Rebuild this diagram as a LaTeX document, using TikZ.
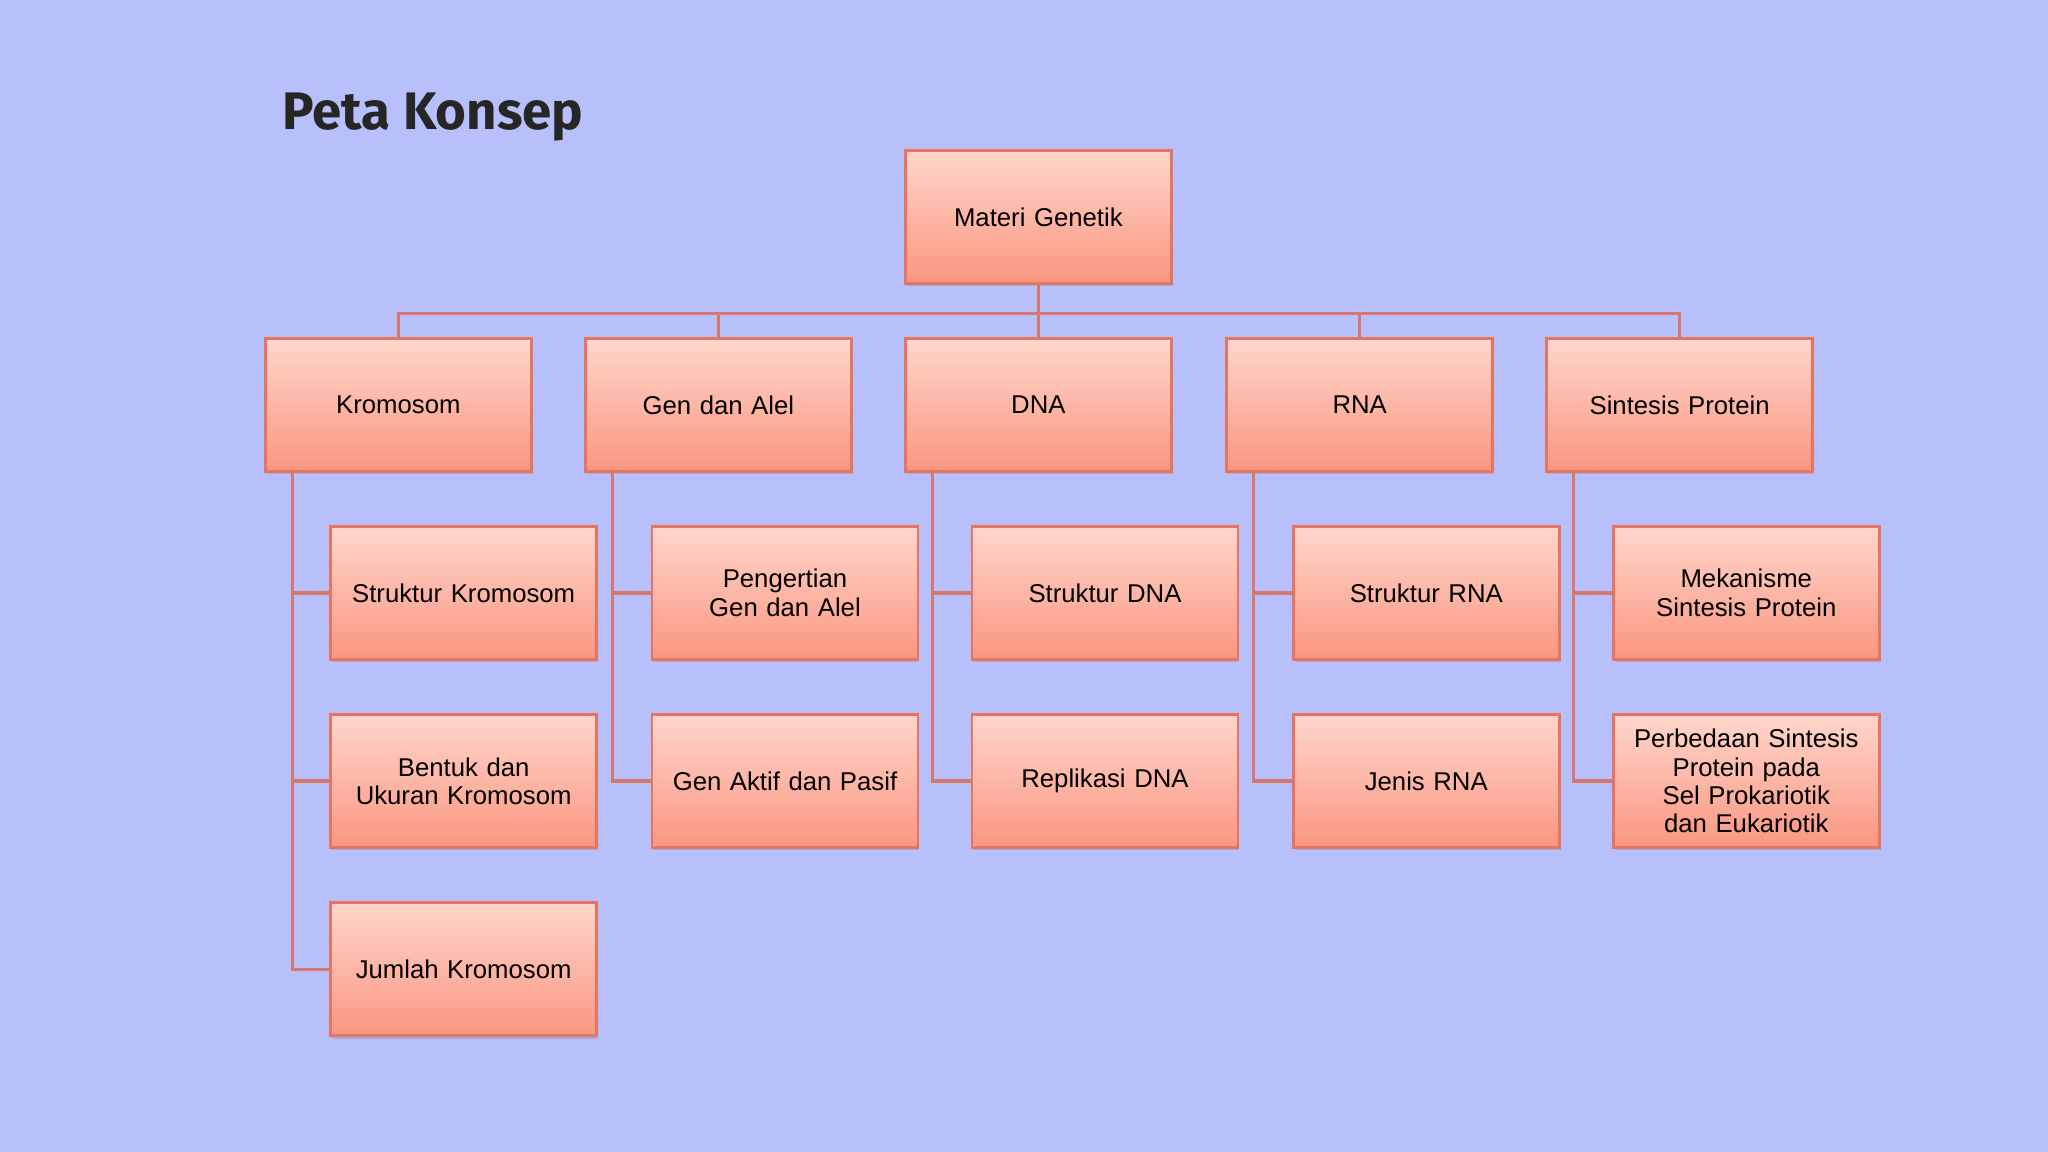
\documentclass[tikz,border=0pt]{standalone}
\usepackage{fontspec}
\setmainfont{Liberation Sans}
\newfontfamily\titlefont{Fira Sans}
\usetikzlibrary{positioning,shadows,backgrounds}
\definecolor{bgblue}{RGB}{184,192,252}
\definecolor{boxtop}{RGB}{255,214,204}
\definecolor{boxbot}{RGB}{250,150,128}
\definecolor{boxline}{RGB}{232,116,96}
\definecolor{linkline}{RGB}{214,120,110}
\tikzset{
  box/.style={draw=boxline, line width=0.6pt, top color=boxtop, bottom color=boxbot,
    minimum width=2.03cm, minimum height=1.02cm, text width=2.0cm, align=center,
    inner sep=0.5pt, font=\fontsize{5.6}{6.2}\selectfont,
    drop shadow={shadow xshift=0.3pt, shadow yshift=-0.6pt, fill=black!45, opacity=0.35}},
  link/.style={draw=linkline, line width=0.7pt}
}
\hyphenpenalty=10000
\begin{document}
\hyphenpenalty=10000
\begin{tikzpicture}[x=0.01cm,y=-0.01cm]
\node[anchor=west, font=\titlefont\bfseries\fontsize{11.5}{13}\selectfont, text=black!85] (title) at (204,90) {Peta Konsep};

\node[box] (root) at (795,166) {Materi Genetik};
\node[box] (kro) at (305,310) {Kromosom};
\node[box] (gen) at (550,310) {Gen dan Alel};
\node[box] (dna) at (795,310) {DNA};
\node[box] (rna) at (1041,310) {RNA};
\node[box] (sin) at (1286,310) {Sintesis Protein};

\node[box] (kro1) at (355,454) {Struktur Kromosom};
\node[box] (kro2) at (355,598) {Bentuk dan Ukuran Kromosom};
\node[box] (kro3) at (355,742) {Jumlah Kromosom};
\node[box] (gen1) at (601,454) {Pengertian Gen dan Alel};
\node[box] (gen2) at (601,598) {Gen Aktif dan Pasif};
\node[box] (dna1) at (846,454) {Struktur DNA};
\node[box] (dna2) at (846,598) {Replikasi DNA};
\node[box] (rna1) at (1092,454) {Struktur RNA};
\node[box] (rna2) at (1092,598) {Jenis RNA};
\node[box] (sin1) at (1337,454) {Mekanisme Sintesis Protein};
\node[box] (sin2) at (1337,598) {Perbedaan Sintesis Protein pada Sel Prokariotik dan Eukariotik};

% connectors
\begin{scope}[on background layer]
\fill[bgblue] (0,0) rectangle (1568,882);
\foreach \p in {kro,gen,dna,rna,sin}
  \draw[link] (root.south) -- ++(0,22) -| (\p.north);
\foreach \p/\c in {kro/kro1,kro/kro2,kro/kro3,gen/gen1,gen/gen2,dna/dna1,dna/dna2,rna/rna1,rna/rna2,sin/sin1,sin/sin2}
  \draw[link] ([xshift=-0.81cm]\p.south) |- (\c.west);
\end{scope}
\useasboundingbox (0,0) rectangle (1568,882);
\end{tikzpicture}
\end{document}
